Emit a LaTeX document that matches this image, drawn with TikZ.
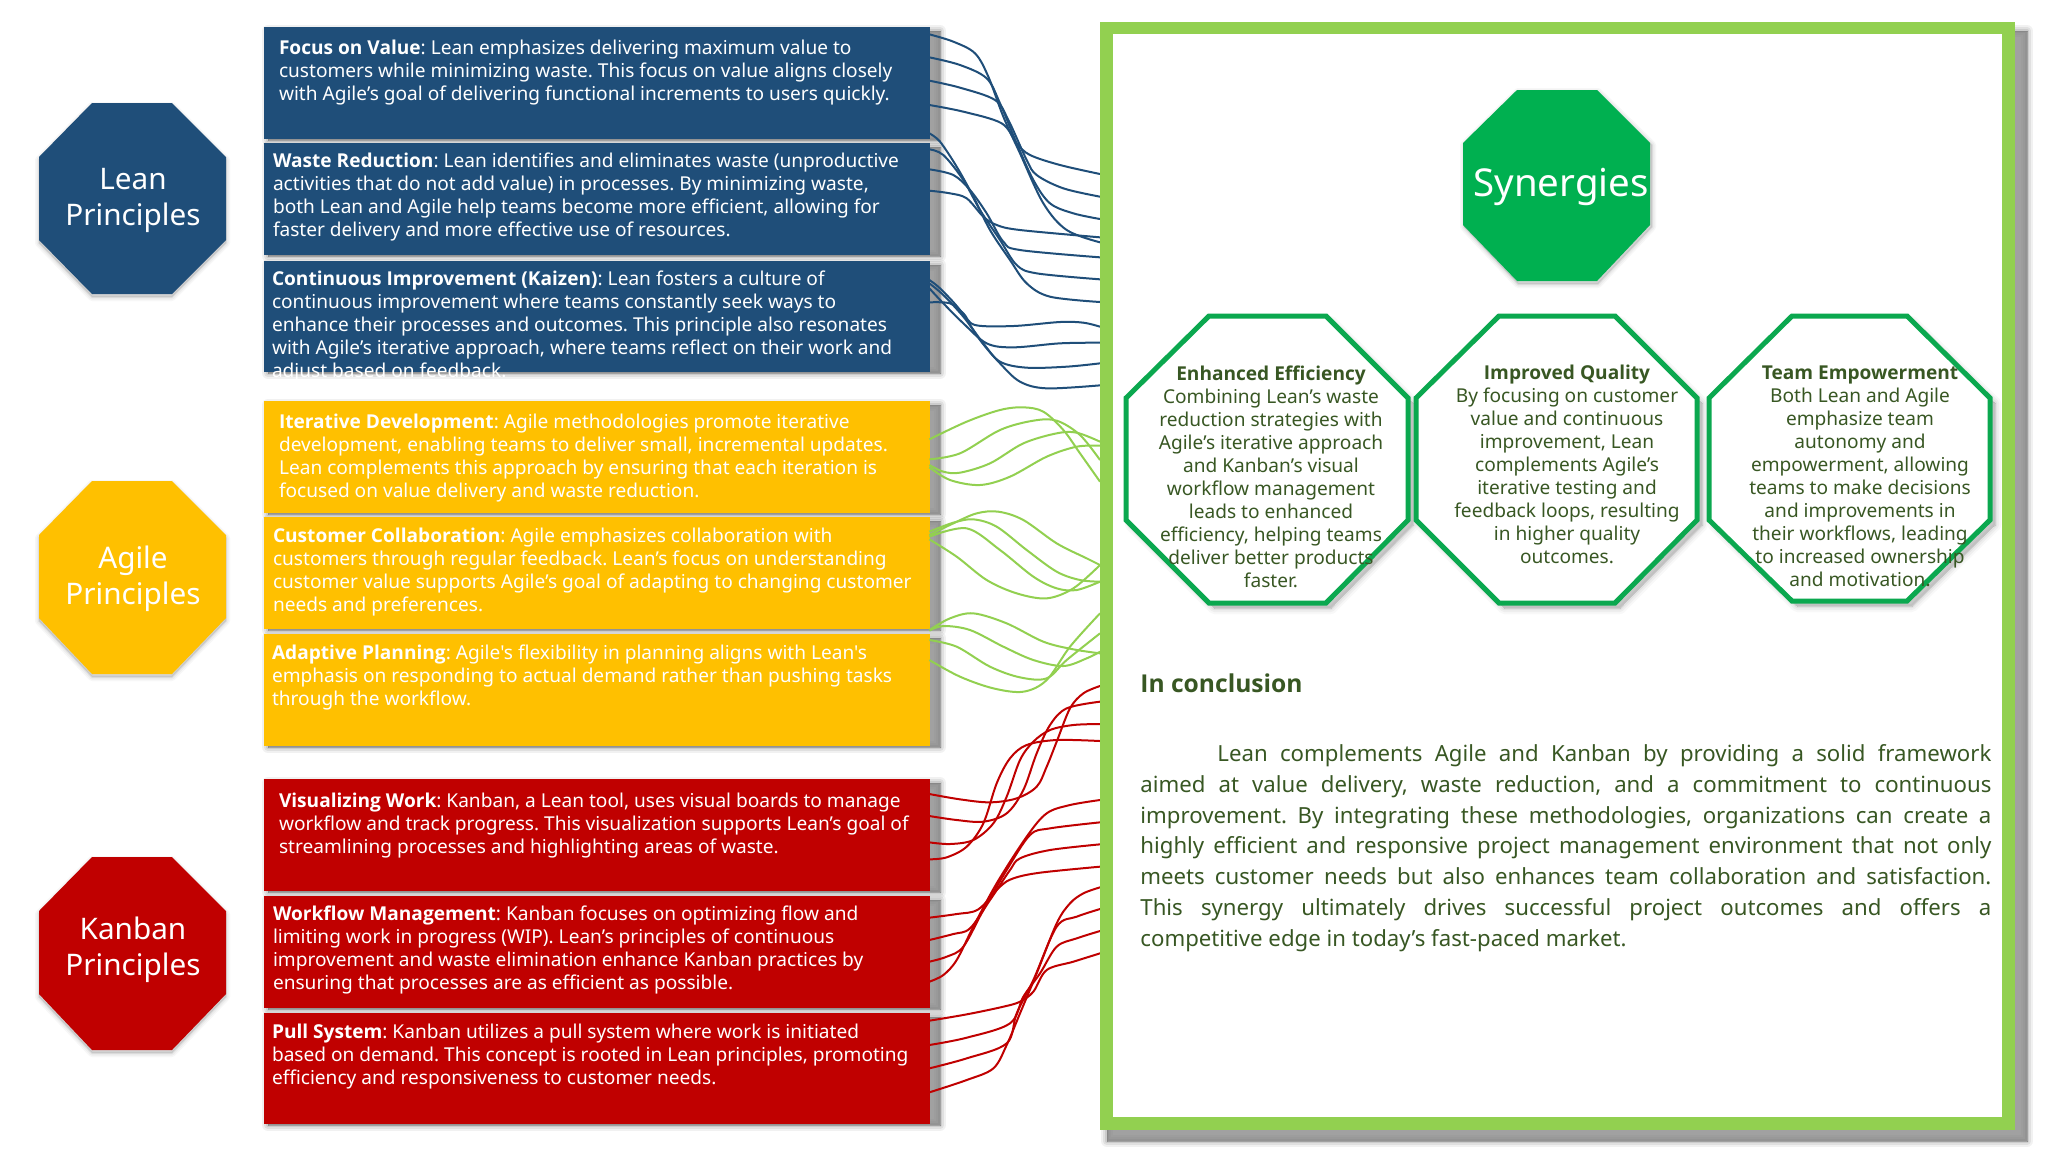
\documentclass[tikz,border=0pt]{standalone}
\usepackage{fontspec}
\setmainfont{Noto Sans}[Ligatures=TeXOff]
\newfontfamily\hbfam{Open Sans}[Ligatures=TeXOff]
\newcommand{\tb}[1]{{\hbfam\bfseries #1}}
\hbadness=10000
\hfuzz=20pt
\frenchspacing
\definecolor{blueb}{HTML}{1F4E79}
\definecolor{orangeb}{HTML}{FFC000}
\definecolor{redb}{HTML}{C00000}
\definecolor{frameg}{HTML}{92D050}
\definecolor{octg}{HTML}{0BA84F}
\definecolor{synb}{HTML}{00B050}
\definecolor{textg}{HTML}{385723}
\definecolor{shad}{HTML}{7F7F7F}
\newcounter{cn}
% connector: colour, start, way points, end
\newcommand{\conn}[4]{%
  \stepcounter{cn}%
  \coordinate (cs\thecn) at (#2);
  \coordinate (ce\thecn) at (#4);
  \draw[conn,#1] plot[smooth,tension=.55] coordinates {(cs\thecn) #3 (ce\thecn)};
}
\newcommand{\softrect}[4]{%
  \foreach \w/\o in {12/.10,8/.15,4/.20,0/.55}{%
    \filldraw[fill=shad,draw=shad,line width=\w*.5pt,opacity=\o,line join=round]
      (#1,#2) rectangle (#3,#4);
  }%
}
\newcommand{\softpoly}[1]{%
  \foreach \w/\o in {12/.05,8/.08,4/.10,0/.14}{%
    \filldraw[fill=shad,draw=shad,line width=\w*.5pt,opacity=\o,line join=round]
      #1 -- cycle;
  }%
}
\newcommand{\softlight}[1]{%
  \foreach \w/\o in {8/.06,5/.08,2/.12}{%
    \filldraw[fill=shad,draw=shad,line width=\w*.5pt,opacity=\o,line join=round]
      #1 -- cycle;
  }%
}
\newcommand{\bx}[6]{%
  \pgfmathsetmacro{\bw}{(#5-#3)*.5}\pgfmathsetmacro{\bh}{(#6-#4)*.5}%
  \node[fill=#2,anchor=north west,inner sep=0pt,outer sep=0pt,minimum width=\bw pt,minimum height=\bh pt] (#1) at (#3,#4) {};
}
\tikzset{
  conn/.style={line width=1pt,line join=round},
  txt/.style={anchor=north west,inner sep=0pt,outer sep=0pt,align=left,text=white,font=\fontsize{9.55}{11.5}\selectfont},
  lab/.style={inner sep=0pt,align=center,text=white,font=\fontsize{14.85}{18}\selectfont},
  oct/.style={inner sep=0pt,align=center,text=textg,font=\fontsize{9.55}{11.5}\selectfont},
}
\begin{document}
\begin{tikzpicture}[x=.5pt,y=-.5pt]
\useasboundingbox (0,0) rectangle (2048,1152);
\fill[white] (0,0) rectangle (2048,1152);
% shadows of boxes
\softrect{268}{31}{940}{140}
\softrect{268}{147}{940}{256}
\softrect{268}{265}{940}{373}
\softrect{268}{405}{940}{514}
\softrect{268}{521}{940}{630}
\softrect{268}{638}{940}{747}
\softrect{268}{783}{940}{892}
\softrect{268}{900}{940}{1009}
\softrect{268}{1017}{940}{1125}
% shadows of left octagons
\softlight{(39,160)--(92,106)--(172,106)--(226,160)--(226,243)--(172,297)--(92,297)--(39,243)}
\softlight{(39,538)--(92,484)--(172,484)--(226,538)--(226,621)--(172,677)--(92,677)--(39,621)}
\softlight{(39,914)--(92,860)--(172,860)--(226,914)--(226,997)--(172,1053)--(92,1053)--(39,997)}
% frame shadow
\softrect{1107}{31}{2027}{1141}
% boxes
\bx{b1}{blueb}{264}{27}{930}{139}
\bx{b2}{blueb}{264}{143}{930}{255}
\bx{b3}{blueb}{264}{261}{930}{372}
\bx{b4}{orangeb}{264}{401}{930}{513}
\bx{b5}{orangeb}{264}{517}{930}{629}
\bx{b6}{orangeb}{264}{634}{930}{746}
\bx{b7}{redb}{264}{779}{930}{891}
\bx{b8}{redb}{264}{896}{930}{1008}
\bx{b9}{redb}{264}{1013}{930}{1124}
% left octagons
\fill[blueb] (39,157)--(92,103)--(172,103)--(226,157)--(226,240)--(172,294)--(92,294)--(39,240)--cycle;
\fill[orangeb] (39,535)--(92,481)--(172,481)--(226,535)--(226,618)--(172,674)--(92,674)--(39,618)--cycle;
\fill[redb] (39,911)--(92,857)--(172,857)--(226,911)--(226,994)--(172,1050)--(92,1050)--(39,994)--cycle;
\node[lab] (lean) at (133,200) {Lean\\Principles};
\node[lab] (agile) at (133,579) {Agile\\Principles};
\node[lab] (kanban) at (133,950) {Kanban\\Principles};
% connectors: blue (coordinates in 3x units from (920,20))
\begin{scope}[shift={(920,20)},x=.16667pt,y=-.16667pt]
\conn{blueb}{28,43}{(100,65) (165,100) (205,170) (250,290) (300,400) (370,550) (440,630)}{540,667}
\conn{blueb}{28,112}{(120,135) (200,175) (240,250) (290,370) (340,480) (390,550) (460,580)}{540,597}
\conn{blueb}{28,182}{(120,203) (225,240) (265,300) (320,420) (350,465) (430,505)}{540,530}
\conn{blueb}{28,255}{(130,275) (245,310) (290,370) (330,405) (420,435)}{540,462}
\conn{blueb}{28,340}{(60,365) (110,440) (160,530) (210,630) (270,720) (320,790) (390,830)}{540,846}
\conn{blueb}{28,388}{(70,405) (130,480) (180,570) (240,660) (290,735) (350,760)}{540,778}
\conn{blueb}{28,448}{(100,465) (150,510) (200,580) (250,665) (300,690)}{540,712}
\conn{blueb}{28,512}{(90,520) (140,535) (190,590) (230,615) (300,630)}{540,652}
\conn{blueb}{28,780}{(60,805) (120,870) (180,960) (240,1030) (300,1085) (380,1105)}{540,1096}
\conn{blueb}{28,790}{(70,825) (130,890) (190,970) (240,1025) (320,1043) (440,1040)}{540,1030}
\conn{blueb}{28,805}{(70,850) (130,910) (200,970) (280,982) (420,970)}{540,968}
\conn{blueb}{28,847}{(90,850) (130,880) (165,915) (280,918) (420,906) (490,908)}{540,920}
\end{scope}
% connectors: green (3x units from (900,380))
\begin{scope}[shift={(900,380)},x=.16667pt,y=-.16667pt]
\conn{frameg}{88,178}{(200,125) (300,90) (370,82) (430,95) (490,150) (540,220)}{600,305}
\conn{frameg}{88,238}{(180,220) (300,150) (400,122) (470,122) (540,165)}{600,240}
\conn{frameg}{88,255}{(130,275) (180,278) (270,250) (370,190) (470,160) (530,158)}{600,185}
\conn{frameg}{88,262}{(150,300) (240,315) (330,290) (440,230) (530,200)}{600,197}
\conn{frameg}{88,465}{(160,430) (230,400) (295,395) (370,420) (470,490) (560,535)}{600,555}
\conn{frameg}{88,455}{(160,428) (220,418) (290,440) (380,510) (470,575) (540,600)}{600,605}
\conn{frameg}{88,470}{(200,445) (300,510) (400,590) (470,625) (530,630)}{600,605}
\conn{frameg}{88,478}{(170,530) (260,600) (350,640) (440,655) (520,625)}{600,555}
\conn{frameg}{88,750}{(150,715) (220,700) (320,730) (430,785) (520,808)}{600,820}
\conn{frameg}{88,752}{(130,738) (210,750) (310,800) (400,840) (490,858) (560,835)}{600,815}
\conn{frameg}{88,780}{(170,800) (270,860) (360,892) (440,895) (500,840)}{600,760}
\conn{frameg}{88,840}{(180,890) (280,925) (370,935) (440,900) (510,800)}{600,700}
\end{scope}
% connectors: red (3x units from (900,680))
\begin{scope}[shift={(900,680)},x=.16667pt,y=-.16667pt]
\conn{redb}{88,342}{(180,358) (270,367) (350,355) (410,320) (440,260) (470,185) (510,85) (550,40)}{600,18}
\conn{redb}{88,408}{(170,420) (250,425) (320,400) (370,330) (410,220) (450,135) (500,85)}{600,65}
\conn{redb}{88,487}{(150,492) (220,480) (280,430) (320,350) (360,240) (400,185) (450,150) (520,135)}{600,132}
\conn{redb}{88,538}{(140,532) (200,500) (250,430) (290,310) (330,235) (380,195) (470,180)}{600,183}
\conn{redb}{88,713}{(170,702) (235,688) (300,620) (340,595) (420,578)}{600,560}
\conn{redb}{88,780}{(160,762) (210,745) (270,660) (330,570) (360,535) (450,510)}{600,493}
\conn{redb}{88,845}{(140,830) (190,800) (250,690) (320,570) (390,465) (450,445)}{600,427}
\conn{redb}{88,905}{(130,885) (170,840) (220,740) (290,610) (380,470) (440,400) (510,375)}{600,360}
\conn{redb}{88,1022}{(200,1003) (310,980) (360,965) (400,935) (440,870) (520,845)}{600,820}
\conn{redb}{88,1095}{(200,1073) (330,1030) (370,950) (420,880) (470,800) (530,775)}{600,753}
\conn{redb}{88,1165}{(200,1135) (320,1090) (350,1000) (400,900) (470,740) (530,710)}{600,687}
\conn{redb}{88,1237}{(200,1200) (280,1165) (320,1095) (360,1000) (410,880) (470,730) (510,670) (550,640)}{600,622}
\end{scope}
% frame
\fill[frameg] (1100,22) rectangle (2015,1129.5);
\fill[white] (1113,34) rectangle (2002,1117);
% box texts
\node[txt] (t1) at (279,40) {\tb{Focus on Value}: Lean emphasizes delivering maximum value to\\customers while minimizing waste. This focus on value aligns closely\\with Agile’s goal of delivering functional increments to users quickly.};
\node[txt] (t2) at (273,153) {\tb{Waste Reduction}: Lean identifies and eliminates waste (unproductive\\activities that do not add value) in processes. By minimizing waste,\\both Lean and Agile help teams become more efficient, allowing for\\faster delivery and more effective use of resources.};
\node[txt] (t3) at (272,271) {\tb{Continuous Improvement (Kaizen)}: Lean fosters a culture of\\continuous improvement where teams constantly seek ways to\\enhance their processes and outcomes. This principle also resonates\\with Agile’s iterative approach, where teams reflect on their work and\\adjust based on feedback.};
\node[txt] (t4) at (279,414) {\tb{Iterative Development}: Agile methodologies promote iterative\\development, enabling teams to deliver small, incremental updates.\\Lean complements this approach by ensuring that each iteration is\\focused on value delivery and waste reduction.};
\node[txt] (t5) at (273,528) {\tb{Customer Collaboration}: Agile emphasizes collaboration with\\customers through regular feedback. Lean’s focus on understanding\\customer value supports Agile’s goal of adapting to changing customer\\needs and preferences.};
\node[txt] (t6) at (272,645) {\tb{Adaptive Planning}: Agile's flexibility in planning aligns with Lean's\\emphasis on responding to actual demand rather than pushing tasks\\through the workflow.};
\node[txt] (t7) at (279,793) {\tb{Visualizing Work}: Kanban, a Lean tool, uses visual boards to manage\\workflow and track progress. This visualization supports Lean’s goal of\\streamlining processes and highlighting areas of waste.};
\node[txt] (t8) at (273,906) {\tb{Workflow Management}: Kanban focuses on optimizing flow and\\limiting work in progress (WIP). Lean’s principles of continuous\\improvement and waste elimination enhance Kanban practices by\\ensuring that processes are as efficient as possible.};
\node[txt] (t9) at (272,1024) {\tb{Pull System}: Kanban utilizes a pull system where work is initiated\\based on demand. This concept is rooted in Lean principles, promoting\\efficiency and responsiveness to customer needs.};
% Synergies
\softlight{(1464,145)--(1518,92)--(1598,92)--(1652,145)--(1652,227)--(1598,284)--(1518,284)--(1464,227)}
\fill[synb] (1463,143)--(1517,90)--(1597,90)--(1650,143)--(1650,225)--(1597,281)--(1517,281)--(1463,225)--cycle;
\node[lab,font=\fontsize{19.2}{22}\selectfont] (syn) at (1561,187) {Synergies};
% green octagons
\softpoly{(1131,403)--(1214,322)--(1331,322)--(1413,403)--(1413,525)--(1331,608)--(1214,608)--(1131,525)}
\softpoly{(1421,403)--(1504,322)--(1620,322)--(1702,403)--(1702,525)--(1620,608)--(1504,608)--(1421,525)}
\softpoly{(1714,403)--(1797,322)--(1912,322)--(1995,403)--(1995,525)--(1912,606)--(1797,606)--(1714,525)}
\draw[octg,fill=white,line width=2.5pt] (1126,398)--(1209,316)--(1326,316)--(1408,398)--(1408,520)--(1326,603)--(1209,603)--(1126,520)--cycle;
\draw[octg,fill=white,line width=2.5pt] (1416,398)--(1499,316)--(1615,316)--(1697,398)--(1697,520)--(1615,603)--(1499,603)--(1416,520)--cycle;
\draw[octg,fill=white,line width=2.5pt] (1709,398)--(1792,316)--(1907,316)--(1990,398)--(1990,520)--(1907,601)--(1792,601)--(1709,520)--cycle;
\node[oct,anchor=north] (o1) at (1271,365) {\tb{Enhanced Efficiency}\\Combining Lean’s waste\\reduction strategies with\\Agile’s iterative approach\\and Kanban’s visual\\workflow management\\leads to enhanced\\efficiency, helping teams\\deliver better products\\faster.};
\node[oct,anchor=north] (o2) at (1567,365) {\tb{Improved Quality}\\By focusing on customer\\value and continuous\\improvement, Lean\\complements Agile’s\\iterative testing and\\feedback loops, resulting\\in higher quality\\outcomes.};
\node[oct,anchor=north] (o3) at (1860,365) {\tb{Team Empowerment}\\Both Lean and Agile\\emphasize team\\autonomy and\\empowerment, allowing\\teams to make decisions\\and improvements in\\their workflows, leading\\to increased ownership\\and motivation.};
% conclusion
\node[anchor=west,inner sep=0pt,text=textg,font=\fontsize{12.3}{15}\selectfont] (c1) at (1140,683) {\tb{In conclusion}};
\node[anchor=north west,inner sep=0pt,text=textg,text width=425.5pt,align=justify,font=\fontsize{11.1}{15.4}\selectfont] (c2) at (1140,744) {\hspace*{38.5pt}Lean complements Agile and Kanban by providing a solid framework\linebreak aimed at value delivery, waste reduction, and a commitment to continuous\linebreak improvement. By integrating these methodologies, organizations can create a\linebreak highly efficient and responsive project management environment that not only\linebreak meets customer needs but also enhances team collaboration and satisfaction.\linebreak This synergy ultimately drives successful project outcomes and offers a\linebreak competitive edge in today’s fast-paced market.};
\end{tikzpicture}
\end{document}
